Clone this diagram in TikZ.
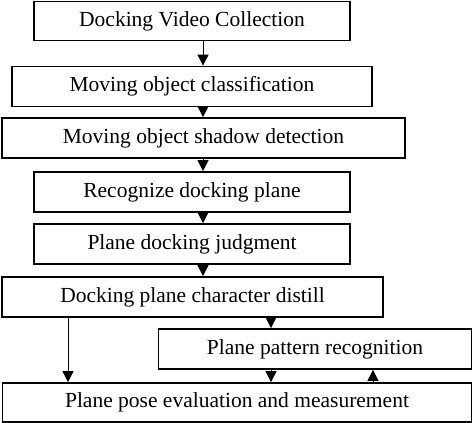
\documentclass[tikz,border=0pt]{standalone}
\usepackage{fontspec}
\setmainfont{Liberation Serif}
\usetikzlibrary{arrows.meta}
\tikzset{
  box/.style={draw, line width=1.8pt, inner sep=0pt, font=\fontsize{21.5}{23}\selectfont},
  arr/.style={line width=1pt, -{Triangle[length=11pt,width=11pt]}}
}
\begin{document}
\begin{tikzpicture}[x=1pt,y=-1pt]
\useasboundingbox (0,0) rectangle (474,423);
\node[box, minimum width=316pt, minimum height=39pt] (b1) at (192,21) {Docking Video Collection};
\node[box, minimum width=360pt, minimum height=40pt] (b2) at (192,86.5) {Moving object classification};
\node[box, minimum width=403pt, minimum height=40pt] (b3) at (203.5,138) {Moving object shadow detection};
\node[box, minimum width=316pt, minimum height=40pt] (b4) at (192,192) {Recognize docking plane};
\node[box, minimum width=316pt, minimum height=40pt] (b5) at (192,244) {Plane docking judgment};
\node[box, minimum width=381pt, minimum height=40pt] (b6) at (192.5,297) {Docking plane character distill};
\node[box, minimum width=313pt, minimum height=40pt] (b7) at (315,349) {Plane pattern recognition};
\node[box, minimum width=469pt, minimum height=39pt] (b8) at (237,402.5) {Plane pose evaluation and measurement};
\coordinate (ax) at (203,0);
\coordinate (al) at (68,0);
\coordinate (am) at (271,0);
\coordinate (ar) at (373,0);
\draw[arr] (b1.south -| ax) -- (b2.north -| ax);
\draw[arr] (b2.south -| ax) -- (b3.north -| ax);
\draw[arr] (b3.south -| ax) -- (b4.north -| ax);
\draw[arr] (b4.south -| ax) -- (b5.north -| ax);
\draw[arr] (b5.south -| ax) -- (b6.north -| ax);
\draw[arr] (b6.south -| al) -- (b8.north -| al);
\draw[arr] (b6.south -| am) -- (b7.north -| am);
\draw[arr] (b7.south -| am) -- (b8.north -| am);
\draw[arr] (b8.north -| ar) -- (b7.south -| ar);
\end{tikzpicture}
\end{document}
